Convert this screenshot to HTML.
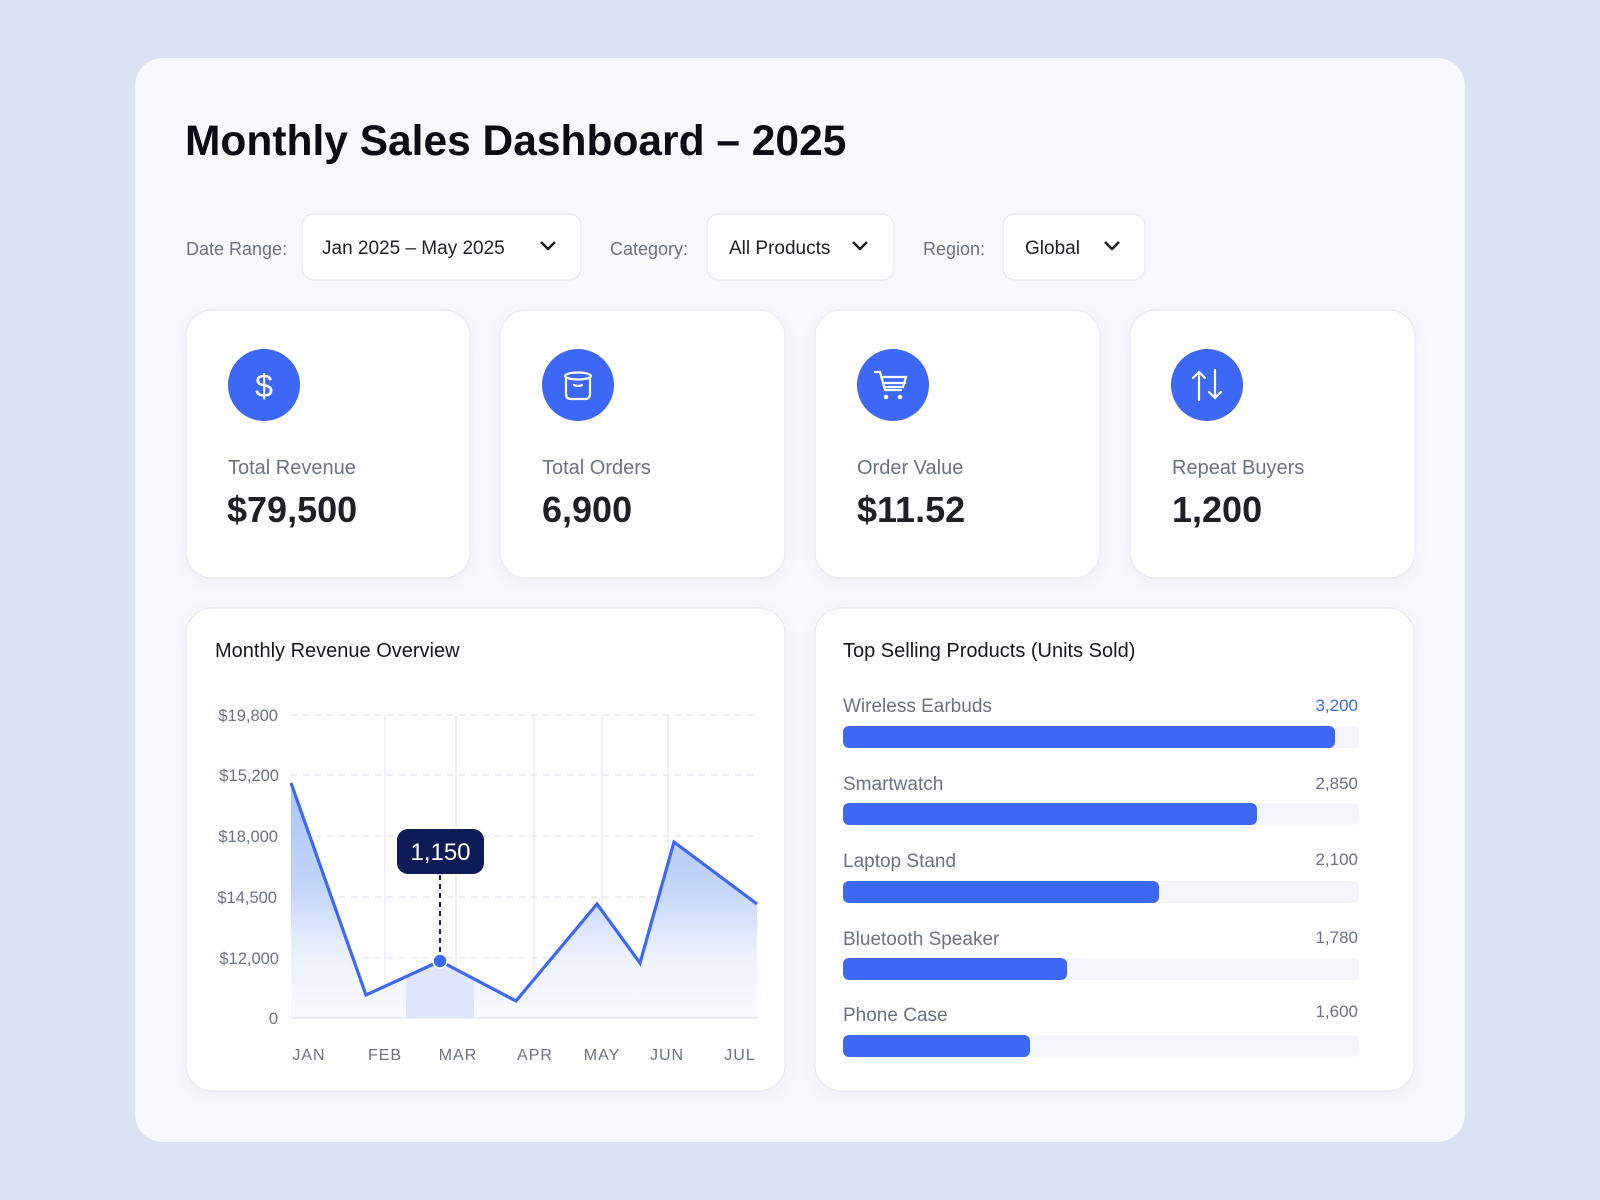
<!DOCTYPE html>
<html><head><meta charset="utf-8"><style>
html,body{margin:0;padding:0;background:#dce1f3;}
svg{display:block;font-family:"Liberation Sans",sans-serif;}
</style></head><body>
<svg width="1600" height="1200" viewBox="0 0 1600 1200" xmlns="http://www.w3.org/2000/svg">
<defs>
<linearGradient id="area" x1="0" y1="780" x2="0" y2="1018" gradientUnits="userSpaceOnUse">
<stop offset="0" stop-color="#a9c4f7"/><stop offset="0.45" stop-color="#c3d5f9"/><stop offset="0.75" stop-color="#eef2fd"/><stop offset="1" stop-color="#f8f9fe"/>
</linearGradient>
<clipPath id="ac"><path d="M291,783 L366,995 L440,961 L516,1001 L597,904 L640,963 L674,842 L757,904 L757,1018 L291,1018Z"/></clipPath>
<filter id="sh" x="-10%" y="-10%" width="120%" height="130%"><feDropShadow dx="0" dy="4" stdDeviation="6" flood-color="#6a78b0" flood-opacity="0.08"/></filter>
</defs>
<rect width="1600" height="1200" fill="#dce1f3"/>
<rect x="135" y="58" width="1330" height="1084" rx="28" fill="#f8f9fc"/>
<text x="185" y="155" font-size="42.5" font-weight="bold" fill="#0c0c14">Monthly Sales Dashboard – 2025</text>

<text x="186" y="255" font-size="18" fill="#6b7280">Date Range:</text>
<rect x="302" y="214" width="279" height="66" rx="12" fill="#fff" stroke="#e3e6ef"/>
<text x="322" y="254" font-size="19" fill="#1f2024">Jan 2025 – May 2025</text>
<path d="M541,242 l7,7 l7,-7" fill="none" stroke="#1f2024" stroke-width="2.5"/>
<text x="610" y="255" font-size="18" fill="#6b7280">Category:</text>
<rect x="707" y="214" width="187" height="66" rx="12" fill="#fff" stroke="#e3e6ef"/>
<text x="729" y="254" font-size="19" fill="#1f2024">All Products</text>
<path d="M853,242 l7,7 l7,-7" fill="none" stroke="#1f2024" stroke-width="2.5"/>
<text x="923" y="255" font-size="18" fill="#6b7280">Region:</text>
<rect x="1003" y="214" width="142" height="66" rx="12" fill="#fff" stroke="#e3e6ef"/>
<text x="1025" y="254" font-size="19" fill="#1f2024">Global</text>
<path d="M1105,242 l7,7 l7,-7" fill="none" stroke="#1f2024" stroke-width="2.5"/>

<g filter="url(#sh)">
<rect x="186" y="310" width="284" height="268" rx="26" fill="#fff" stroke="#e4e7f3"/>
<rect x="500" y="310" width="285" height="268" rx="26" fill="#fff" stroke="#e4e7f3"/>
<rect x="815" y="310" width="285" height="268" rx="26" fill="#fff" stroke="#e4e7f3"/>
<rect x="1130" y="310" width="285" height="268" rx="26" fill="#fff" stroke="#e4e7f3"/>
</g>
<circle cx="264" cy="385" r="36" fill="#3d68f5"/>
<text x="264" y="397" font-size="32" fill="#fff" text-anchor="middle">$</text>
<circle cx="578" cy="385" r="36" fill="#3d68f5"/>
<g fill="none" stroke="#fff" stroke-width="2.2" stroke-linecap="round">
<ellipse cx="578" cy="376" rx="13" ry="3.5"/>
<path d="M566,379 v15 q0,5 5,5 h14 q5,0 5,-5 v-15"/><path d="M574,385 q4,2 8,0"/>
</g>
<circle cx="893" cy="385" r="36" fill="#3d68f5"/>
<g fill="none" stroke="#fff" stroke-width="2.2" stroke-linecap="round">
<path d="M875,372 h5 l5,18 h16"/><path d="M881,377 h25 l-3,10 h-19"/><path d="M885,383 h20"/>
</g>
<circle cx="886" cy="397" r="2.3" fill="#fff"/><circle cx="900" cy="397" r="2.3" fill="#fff"/>
<circle cx="1207" cy="385" r="36" fill="#3d68f5"/>
<g fill="none" stroke="#fff" stroke-width="2.2" stroke-linecap="round">
<path d="M1199,400 v-28 M1193,378 l6,-6 l6,6"/><path d="M1215,370 v28 M1209,392 l6,6 l6,-6"/>
</g>
<g font-size="20" fill="#6b7280">
<text x="228" y="474">Total Revenue</text><text x="542" y="474">Total Orders</text>
<text x="857" y="474">Order Value</text><text x="1172" y="474">Repeat Buyers</text>
</g>
<g font-size="36" font-weight="bold" fill="#1f2024">
<text x="227" y="522">$79,500</text><text x="542" y="522">6,900</text>
<text x="857" y="522">$11.52</text><text x="1172" y="522">1,200</text>
</g>

<g filter="url(#sh)">
<rect x="186" y="608" width="599" height="483" rx="26" fill="#fff" stroke="#e4e7f3"/>
<rect x="815" y="608" width="599" height="483" rx="26" fill="#fff" stroke="#e4e7f3"/>
</g>
<text x="215" y="657" font-size="20" fill="#16171c">Monthly Revenue Overview</text>

<g stroke="#e8e9f2" stroke-width="1.3">
<line x1="385" y1="715" x2="385" y2="1018"/><line x1="456" y1="715" x2="456" y2="1018"/>
<line x1="534" y1="715" x2="534" y2="1018"/><line x1="602" y1="715" x2="602" y2="1018"/>
<line x1="668" y1="715" x2="668" y2="1018"/>
</g>
<g stroke="#e1e3ee" stroke-width="1.3" stroke-dasharray="6,6">
<line x1="291" y1="715" x2="757" y2="715"/><line x1="291" y1="775" x2="757" y2="775"/>
<line x1="291" y1="836" x2="757" y2="836"/><line x1="291" y1="897" x2="757" y2="897"/>
<line x1="291" y1="958" x2="757" y2="958"/>
</g>
<path d="M291,783 L366,995 L440,961 L516,1001 L597,904 L640,963 L674,842 L757,904 L757,1018 L291,1018Z" fill="url(#area)"/>
<rect x="406" y="900" width="68" height="118" fill="#dfe5fb" clip-path="url(#ac)"/>
<line x1="291" y1="1018" x2="757" y2="1018" stroke="#e4e6f1" stroke-width="1.5"/>
<path d="M291,783 L366,995 L440,961 L516,1001 L597,904 L640,963 L674,842 L757,904" fill="none" stroke="#3d68f5" stroke-width="3.2"/>
<line x1="440" y1="875" x2="440" y2="956" stroke="#1f2337" stroke-width="2" stroke-dasharray="5,4"/>
<circle cx="440" cy="961" r="7" fill="#3d68f5" stroke="#fff" stroke-width="1.5"/>
<rect x="397" y="829" width="87" height="45" rx="11" fill="#0d1b57"/>
<text x="440.5" y="860" font-size="24" fill="#fff" text-anchor="middle">1,150</text>
<g font-size="16.5" fill="#6b7280" text-anchor="end">
<text x="278" y="721">$19,800</text><text x="279" y="781">$15,200</text>
<text x="278" y="842">$18,000</text><text x="277" y="903">$14,500</text>
<text x="279" y="964">$12,000</text><text x="278" y="1024">0</text>
</g>
<g font-size="16" fill="#6b7280" text-anchor="middle" letter-spacing="1">
<text x="309" y="1060">JAN</text><text x="385" y="1060">FEB</text><text x="458" y="1060">MAR</text>
<text x="535" y="1060">APR</text><text x="602" y="1060">MAY</text><text x="667" y="1060">JUN</text><text x="740" y="1060">JUL</text>
</g>

<text x="843" y="657" font-size="20" fill="#16171c">Top Selling Products (Units Sold)</text>
<g font-size="19" fill="#6b7280">
<text x="843" y="712">Wireless Earbuds</text><text x="843" y="790">Smartwatch</text>
<text x="843" y="867">Laptop Stand</text><text x="843" y="945">Bluetooth Speaker</text>
<text x="843" y="1021">Phone Case</text>
</g>
<g font-size="17" fill="#6b7280" text-anchor="end">
<text x="1358" y="711" fill="#3d68f5">3,200</text><text x="1358" y="789">2,850</text>
<text x="1358" y="865">2,100</text><text x="1358" y="943">1,780</text><text x="1358" y="1017">1,600</text>
</g>
<g fill="#f5f6fc">
<rect x="843" y="726" width="516" height="22" rx="6"/><rect x="843" y="803" width="516" height="22" rx="6"/>
<rect x="843" y="881" width="516" height="22" rx="6"/><rect x="843" y="958" width="516" height="22" rx="6"/>
<rect x="843" y="1035" width="516" height="22" rx="6"/>
</g>
<g fill="#3d68f5">
<rect x="843" y="726" width="492" height="22" rx="6"/><rect x="843" y="803" width="414" height="22" rx="6"/>
<rect x="843" y="881" width="316" height="22" rx="6"/><rect x="843" y="958" width="224" height="22" rx="6"/>
<rect x="843" y="1035" width="187" height="22" rx="6"/>
</g>
</svg>
</body></html>
